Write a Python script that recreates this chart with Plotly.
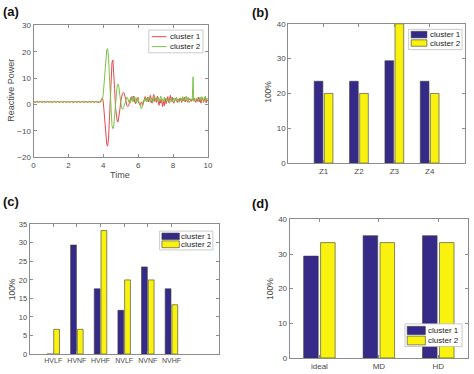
import plotly.graph_objects as go

# ---------------- data ----------------
# (a) reactive power time series, (time, value)
red_points = [
    (0.0, 1.1), (0.1, 0.8), (0.2, 1.2), (0.3, 0.8), (0.4, 1.2), (0.5, 0.8), (0.6, 1.2), (0.7, 0.8),
    (0.8, 1.2), (0.9, 0.8), (1.0, 1.2), (1.1, 0.8), (1.2, 1.2), (1.3, 0.8), (1.4, 1.2), (1.5, 0.8),
    (1.6, 1.2), (1.7, 0.8), (1.8, 1.2), (1.9, 0.8), (2.0, 1.2), (2.1, 0.8), (2.2, 1.2), (2.3, 0.8),
    (2.4, 1.2), (2.5, 0.8), (2.6, 1.2), (2.7, 0.8), (2.8, 1.2), (2.9, 0.8), (3.0, 1.2), (3.1, 0.8),
    (3.2, 1.2), (3.3, 0.8), (3.4, 1.2), (3.5, 0.8), (3.6, 1.2), (3.7, 0.8),
    (3.80, 1.0), (3.85, 1.2), (3.90, 2.0), (3.95, 2.5), (4.00, 1.0), (4.05, -3.0), (4.10, -8.0),
    (4.15, -12.5), (4.20, -15.0), (4.25, -15.8), (4.30, -13.0), (4.35, -6.0), (4.40, 3.0),
    (4.45, 11.0), (4.50, 16.0), (4.55, 16.9), (4.60, 13.0), (4.65, 6.0), (4.70, -1.0),
    (4.75, -5.0), (4.80, -6.4), (4.85, -6.6), (4.90, -5.0), (4.95, -2.0), (5.00, 1.0),
    (5.05, 3.0), (5.10, 4.2), (5.15, 4.6), (5.20, 4.3), (5.25, 3.0), (5.30, 1.2), (5.35, -0.3),
    (5.40, -0.8), (5.45, -0.5), (5.50, 0.8), (5.55, 2.0), (5.60, 2.8), (5.65, 1.5), (5.70, 2.5),
    (5.75, 3.2), (5.80, 1.0), (5.85, 0.3), (5.90, 1.8), (5.95, 2.6), (6.00, 1.2), (6.05, 0.2),
    (6.10, -0.2), (6.15, 0.5), (6.20, 1.0), (6.25, -0.6), (6.30, 0.8), (6.35, 2.5), (6.40, 3.0),
    (6.45, 2.0), (6.50, 1.5), (6.55, 2.8), (6.60, 1.0), (6.65, 2.2), (6.70, 3.5), (6.75, 1.5),
    (6.80, 0.5), (6.85, 2.8), (6.90, 3.8), (6.95, 1.2), (7.00, 2.5), (7.05, 0.8), (7.10, 3.2),
    (7.15, 1.0), (7.20, -0.3), (7.25, 2.0), (7.30, 0.5), (7.35, 1.8), (7.40, -0.8), (7.45, 1.5),
    (7.50, -0.5), (7.55, 2.2), (7.60, 0.3), (7.65, 1.5), (7.70, 3.0), (7.75, 0.8), (7.80, 2.0),
    (7.85, 3.5), (7.90, 1.2), (7.95, 2.8), (8.00, 1.0), (8.05, 0.5), (8.10, 1.8), (8.15, 2.5),
    (8.20, 1.5), (8.25, 0.8), (8.30, 2.0), (8.35, 1.2), (8.40, 2.5), (8.45, 1.8), (8.50, 0.8),
    (8.55, 2.2), (8.60, 1.5), (8.65, 2.8), (8.70, 1.0), (8.75, 2.0), (8.80, 1.5), (8.85, 0.8),
    (8.90, 2.5), (8.95, 1.8), (9.00, 2.0), (9.05, 1.2), (9.10, 2.0), (9.15, 1.5), (9.20, 2.5),
    (9.25, 1.5), (9.30, 0.8), (9.35, 2.2), (9.40, 1.2), (9.45, 2.8), (9.50, 1.0), (9.55, 2.0),
    (9.60, 0.5), (9.65, 1.8), (9.70, 2.5), (9.75, 0.8), (9.80, 1.5), (9.85, 2.8), (9.90, 0.6),
    (9.95, 1.8), (10.00, 1.2),
]
green_points = [
    (0.05, 0.8), (0.15, 1.2), (0.25, 0.8), (0.35, 1.2), (0.45, 0.8), (0.55, 1.2), (0.65, 0.8),
    (0.75, 1.2), (0.85, 0.8), (0.95, 1.2), (1.05, 0.8), (1.15, 1.2), (1.25, 0.8), (1.35, 1.2),
    (1.45, 0.8), (1.55, 1.2), (1.65, 0.8), (1.75, 1.2), (1.85, 0.8), (1.95, 1.2), (2.05, 0.8),
    (2.15, 1.2), (2.25, 0.8), (2.35, 1.2), (2.45, 0.8), (2.55, 1.2), (2.65, 0.8), (2.75, 1.2),
    (2.85, 0.8), (2.95, 1.2), (3.05, 0.8), (3.15, 1.2), (3.25, 0.8), (3.35, 1.2), (3.45, 0.8),
    (3.55, 1.2), (3.65, 0.8), (3.75, 1.2),
    (3.80, 1.0), (3.85, 0.8), (3.90, 1.5), (3.95, 1.8), (4.00, 4.0), (4.05, 9.0), (4.10, 14.0),
    (4.15, 18.5), (4.20, 20.8), (4.25, 21.2), (4.30, 18.0), (4.35, 11.0), (4.40, 3.0),
    (4.45, -4.0), (4.50, -8.0), (4.55, -9.2), (4.60, -8.5), (4.65, -4.0), (4.70, 1.0),
    (4.75, 5.0), (4.80, 7.3), (4.85, 7.8), (4.90, 6.5), (4.95, 3.5), (5.00, 0.5), (5.05, -1.2),
    (5.10, -1.8), (5.15, -1.6), (5.20, -0.5), (5.25, 1.0), (5.30, 2.2), (5.35, 2.8), (5.40, 2.5),
    (5.45, 1.0), (5.50, 1.8), (5.55, 0.5), (5.60, 2.5), (5.65, 3.2), (5.70, 1.0), (5.75, 2.2),
    (5.80, 3.0), (5.85, 2.0), (5.90, 0.5), (5.95, 1.5), (6.00, 2.8), (6.05, 1.0), (6.10, -0.5),
    (6.15, -1.2), (6.20, -1.5), (6.25, 0.2), (6.30, 1.5), (6.35, 2.0), (6.40, 1.2), (6.45, 2.5),
    (6.50, 1.0), (6.55, 2.0), (6.60, 2.8), (6.65, 1.5), (6.70, 0.8), (6.75, 2.5), (6.80, 1.8),
    (6.85, 1.0), (6.90, 2.2), (6.95, 3.0), (7.00, 1.5), (7.05, 2.5), (7.10, 1.8), (7.15, 2.8),
    (7.20, 1.2), (7.25, 2.5), (7.30, 3.2), (7.35, 1.5), (7.40, 2.2), (7.45, 1.0), (7.50, 2.8),
    (7.55, 1.8), (7.60, 2.5), (7.65, 1.2), (7.70, 2.0), (7.75, 1.5), (7.80, 0.5), (7.85, 1.8),
    (7.90, 2.2), (7.95, 1.0), (8.00, 1.5), (8.05, 2.5), (8.10, 1.2), (8.15, 1.8), (8.20, 2.8),
    (8.25, 1.5), (8.30, 2.2), (8.35, 0.8), (8.40, 1.8), (8.45, 2.5), (8.50, 1.5), (8.55, 3.0),
    (8.60, 2.0), (8.65, 1.2), (8.70, 2.5), (8.75, 3.2), (8.80, 1.8), (8.85, 2.8), (8.90, 1.5),
    (8.95, 0.8), (9.00, 1.5), (9.05, 2.2), (9.10, 1.8), (9.15, 10.5), (9.18, 2.0), (9.20, 1.2),
    (9.25, 2.0), (9.30, 1.5), (9.35, 2.5), (9.40, 1.8), (9.45, 1.2), (9.50, 2.0), (9.55, 2.8),
    (9.60, 1.5), (9.65, 3.0), (9.70, 2.2), (9.75, 1.0), (9.80, 2.5), (9.85, 3.2), (9.90, 1.5),
    (9.95, 2.5), (10.00, 2.0),
]
red_t = [p[0] for p in red_points]
red_v = [p[1] for p in red_points]
green_t = [p[0] for p in green_points]
green_v = [p[1] for p in green_points]

# (b) zones
zone_labels = ["Z1", "Z2", "Z3", "Z4"]
zone_c1 = [23.5, 23.5, 29.4, 23.5]
zone_c2 = [20.0, 20.0, 40.0, 20.0]

# (c) voltage / frequency classes
vf_labels = ["HVLF", "HVNF", "HVHF", "NVLF", "NVNF", "NVHF"]
vf_c1 = [0.0, 29.4, 17.6, 11.8, 23.5, 17.6]
vf_c2 = [6.67, 6.67, 33.3, 20.0, 20.0, 13.3]

# (d) disturbance level
dist_labels = ["ideal", "MD", "HD"]
dist_c1 = [29.4, 35.3, 35.3]
dist_c2 = [33.3, 33.3, 33.3]

series_names = ["cluster 1", "cluster 2"]

# ---------------- style ----------------
W, H = 474, 374
FONT = "Liberation Sans, Arial, sans-serif"
NAVY = "#352a87"
YELLOW = "#f9f20e"
RED = "#e8474a"
GREEN = "#7cc247"
AX = "#8c8c8c"
TXT = "#4a4a4a"


def px(x):
    return x / W


def py(y):
    return 1 - y / H


fig = go.Figure()

# (a)
fig.add_trace(go.Scatter(x=red_t, y=red_v, mode="lines", line=dict(color=RED, width=1),
                         xaxis="x", yaxis="y", showlegend=False))
fig.add_trace(go.Scatter(x=green_t, y=green_v, mode="lines", line=dict(color=GREEN, width=1),
                         xaxis="x", yaxis="y", showlegend=False))

bar_line = dict(color="#3a3a3a", width=0.6)
for labels, c1, c2, ax in [(zone_labels, zone_c1, zone_c2, "2"),
                           (vf_labels, vf_c1, vf_c2, "3"),
                           (dist_labels, dist_c1, dist_c2, "4")]:
    xs = list(range(1, len(labels) + 1))
    fig.add_trace(go.Bar(x=xs, y=c1, marker=dict(color=NAVY, line=bar_line),
                         xaxis="x" + ax, yaxis="y" + ax, showlegend=False, offsetgroup="1"))
    fig.add_trace(go.Bar(x=xs, y=c2, marker=dict(color=YELLOW, line=bar_line),
                         xaxis="x" + ax, yaxis="y" + ax, showlegend=False, offsetgroup="2"))


def axis_common(size=8):
    return dict(showline=True, linecolor=AX, linewidth=1, mirror="ticks", ticks="inside",
                ticklen=3, tickcolor=AX, showgrid=False, zeroline=False, tickangle=0,
                tickfont=dict(family=FONT, size=size, color=TXT))


layout = dict(
    width=W, height=H, margin=dict(l=0, r=0, t=0, b=0),
    paper_bgcolor="white", plot_bgcolor="white",
    barmode="group", bargap=0.43, bargroupgap=0.14,
    showlegend=False,
)

# domains (pixels)
dom = {
    "": ((32, 209), (22, 157)),
    "2": ((290.5, 470), (20.3, 163)),
    "3": ((28, 220), (225.7, 358.7)),
    "4": ((292, 473), (220.7, 362.7)),
}
ranges = {
    "": dict(x=[0, 10], y=[-20, 30], xt=[0, 2, 4, 6, 8, 10], yt=[-20, -10, 0, 10, 20, 30], fs=8, xfs=8),
    "2": dict(x=[0, 5], y=[0, 40], yt=[0, 10, 20, 30, 40], labels=zone_labels, fs=8, xfs=8),
    "3": dict(x=[0, 8], y=[0, 35], yt=[0, 5, 10, 15, 20, 25, 30, 35], labels=vf_labels, fs=7.5, xfs=7),
    "4": dict(x=[0.5, 3.5], y=[0, 40], yt=[0, 10, 20, 30, 40], labels=dist_labels, fs=8, xfs=8),
}
for k, ((x0, x1), (y0, y1)) in dom.items():
    r = ranges[k]
    xa = axis_common(r["xfs"])
    xa.update(domain=[px(x0), px(x1)], range=r["x"], anchor="y" + k)
    if "labels" in r:
        xa.update(tickvals=list(range(1, len(r["labels"]) + 1)), ticktext=r["labels"])
    else:
        xa.update(tickvals=r["xt"])
    ya = axis_common(r["fs"])
    ya.update(domain=[py(y1), py(y0)], range=r["y"], tickvals=r["yt"], anchor="x" + k)
    layout["xaxis" + k] = xa
    layout["yaxis" + k] = ya

annotations = []


def text(x, y, s, size=9, angle=0, anchor="center", bold=False, color=TXT):
    annotations.append(dict(
        x=px(x), y=py(y), xref="paper", yref="paper", text=("<b>%s</b>" % s) if bold else s,
        showarrow=False, xanchor=anchor, yanchor="middle", textangle=angle, borderpad=0,
        font=dict(family=FONT, size=size, color=color)))


# panel labels
text(0, 8, "(a)", size=13, anchor="left", bold=True, color="#111")
text(253, 9, "(b)", size=13, anchor="left", bold=True, color="#111")
text(0, 202, "(c)", size=13, anchor="left", bold=True, color="#111")
text(253, 204, "(d)", size=13, anchor="left", bold=True, color="#111")

# axis titles
text(9.5, 88.5, "Reactive Power", angle=-90)
text(120, 175, "Time")
text(270, 90, "100%", size=8.5, angle=-90)
text(10.5, 292, "100%", size=8.5, angle=-90)
text(272, 292, "100%", size=8.5, angle=-90)

shapes = []


def rect(x0, y0, x1, y1, fill, line_color, lw=0.7):
    shapes.append(dict(type="rect", xref="paper", yref="paper", x0=px(x0), x1=px(x1),
                       y0=py(y1), y1=py(y0), fillcolor=fill,
                       line=dict(color=line_color, width=lw), layer="above"))


# legend (a)
rect(149, 26.7, 204, 50, "white", "#b5b5b5")
for i, (yy, col) in enumerate([(33.5, RED), (43.7, GREEN)]):
    shapes.append(dict(type="line", xref="paper", yref="paper", x0=px(152), x1=px(167),
                       y0=py(yy), y1=py(yy), line=dict(color=col, width=1), layer="above"))
    text(169, yy, series_names[i], size=8, anchor="left", color="#222")

# bar legends
for (bx0, by0, bx1, by1, sx0, sx1, rows, tx) in [
    (412.7, 26, 467, 46.7, 415.3, 431.3, [(28, 34.7), (36.7, 43.3)], 433),
    (160, 232.7, 214, 252, 162.3, 180, [(234.7, 241.3), (242.7, 249.7)], 181),
    (409, 327.7, 467, 351, 411.3, 429.7, [(330.3, 338.7), (340.3, 349.3)], 431),
]:
    rect(bx0, by0, bx1, by1, "white", "#b5b5b5")
    for i, ((r0, r1), col) in enumerate(zip(rows, [NAVY, YELLOW])):
        rect(sx0, r0, sx1, r1, col, "#3a3a3a", 0.6)
        text(tx, (r0 + r1) / 2, series_names[i], size=8, anchor="left", color="#222")

layout["annotations"] = annotations
layout["shapes"] = shapes
fig.update_layout(**layout)
fig.write_html("out.html", config={"displayModeBar": False},
               post_script="document.body.style.margin='0px';document.body.style.padding='0px';")
